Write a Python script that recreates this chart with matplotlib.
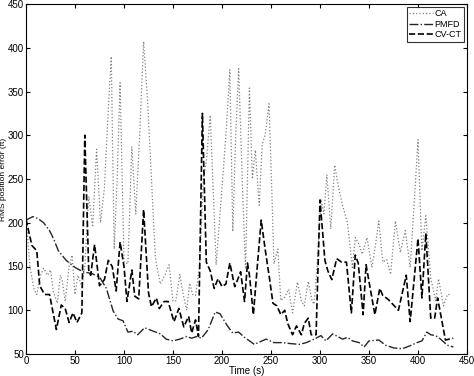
import matplotlib.pyplot as plt
import numpy as np

plt.rcParams['font.family'] = ['Liberation Sans', 'DejaVu Sans']

# CA filter (dotted)
t_ca = [0, 4, 8, 11, 15, 18, 22, 25, 28, 32, 35, 37, 40, 44, 47, 50, 53, 57, 60,
        64, 68, 72, 76, 80, 84, 87, 90, 93, 96, 100, 104, 108, 112, 116, 120, 124,
        128, 132, 137, 142, 146, 150, 153, 157, 160, 164, 167, 170, 173, 177, 181,
        184, 188, 194, 200, 204, 208, 211, 214, 217, 221, 224, 228, 231, 234, 238,
        241, 244, 248, 251, 253, 257, 260, 264, 268, 272, 277, 281, 284, 288, 292,
        294, 297, 301, 304, 307, 311, 315, 319, 323, 328, 333, 336, 340, 343, 348,
        353, 356, 360, 364, 368, 372, 377, 382, 387, 392, 396, 400, 404, 408, 413,
        418, 421, 426, 430, 433]
rms_ca = [208, 150, 125, 118, 140, 148, 140, 146, 121, 108, 140, 134, 110, 150, 163,
          118, 140, 127, 150, 230, 195, 284, 200, 240, 330, 390, 170, 250, 360, 155,
          153, 287, 210, 300, 407, 340, 250, 160, 130, 141, 152, 110, 111, 141, 120,
          100, 131, 118, 117, 150, 250, 270, 323, 152, 240, 300, 375, 190, 300, 376,
          237, 147, 354, 250, 283, 220, 290, 300, 336, 230, 153, 170, 111, 115, 124,
          97, 132, 110, 105, 133, 110, 107, 150, 227, 210, 255, 193, 266, 240, 220,
          200, 149, 183, 175, 164, 183, 149, 170, 202, 155, 158, 141, 202, 166, 191,
          149, 220, 295, 168, 208, 137, 111, 136, 105, 118, 118]

# PMFD (dash-dot)
t_pmfd = [0, 7, 12, 18, 24, 28, 33, 41, 50, 58, 67, 75, 82, 89, 94, 99, 104, 109,
          114, 121, 130, 137, 143, 150, 157, 164, 169, 174, 179, 186, 193, 198, 205,
          211, 217, 223, 233, 245, 253, 262, 269, 279, 286, 294, 301, 306, 313, 318,
          323, 328, 333, 340, 345, 350, 360, 367, 375, 384, 391, 399, 404, 409, 413,
          418, 423, 430, 436]
rms_pmfd = [203, 207, 205, 200, 191, 182, 168, 157, 149, 144, 142, 138, 125, 99, 90,
            88, 75, 76, 72, 80, 76, 73, 67, 65, 67, 70, 68, 70, 68, 78, 98, 96, 83,
            74, 75, 69, 61, 67, 63, 63, 62, 61, 63, 67, 71, 65, 73, 70, 67, 69, 65,
            63, 58, 65, 66, 60, 57, 56, 59, 63, 65, 75, 72, 71, 67, 60, 58]

# CV-CT (dashed)
t_cvct = [0, 6, 11, 14, 19, 24, 31, 36, 40, 44, 48, 52, 57, 60, 64, 66, 70, 75, 80,
          84, 88, 92, 96, 100, 103, 108, 111, 115, 120, 125, 128, 133, 136, 141, 145,
          151, 156, 161, 166, 169, 173, 176, 180, 184, 188, 192, 196, 200, 204, 208,
          213, 216, 219, 223, 226, 228, 232, 236, 240, 244, 248, 252, 256, 260, 264,
          267, 272, 276, 281, 284, 288, 291, 296, 300, 305, 308, 312, 317, 322, 327,
          332, 336, 339, 344, 347, 352, 356, 361, 364, 370, 380, 388, 392, 400, 404,
          408, 413, 417, 420, 428, 436]
rms_cvct = [204, 174, 168, 128, 118, 118, 78, 106, 102, 86, 97, 86, 97, 300, 146, 140,
            175, 128, 135, 157, 150, 122, 178, 150, 110, 146, 116, 113, 215, 120, 104,
            114, 102, 110, 110, 87, 102, 81, 93, 74, 89, 70, 325, 155, 145, 125, 136,
            127, 130, 154, 127, 135, 144, 110, 154, 140, 95, 150, 203, 170, 140, 108,
            105, 95, 100, 85, 72, 82, 72, 85, 91, 72, 72, 226, 157, 145, 135, 159, 155,
            155, 97, 163, 154, 95, 152, 120, 95, 125, 117, 112, 100, 140, 87, 182, 114,
            188, 91, 91, 114, 66, 68]

fig = plt.figure(figsize=(4.74, 3.76), dpi=100)
ax = fig.add_axes([26 / 474, 22 / 376, 441 / 474, 350 / 376])

ax.plot(t_ca, rms_ca, color='0.5', linestyle=':', linewidth=0.9, label='CA')
ax.plot(t_pmfd, rms_pmfd, color='0.15', linestyle='-.', linewidth=1.0, label='PMFD')
ax.plot(t_cvct, rms_cvct, color='black', linestyle='--', linewidth=1.2, label='CV-CT')

ax.set_xlim(0, 450)
ax.set_ylim(50, 450)
ax.set_xticks(np.arange(0, 451, 50))
ax.set_yticks(np.arange(50, 451, 50))
ax.tick_params(direction='in', top=True, right=True, labelsize=7, length=3, pad=1.5)
ax.set_xlabel('Time (s)', fontsize=7)
ax.set_ylabel('RMS position error (ft)', fontsize=6)
ax.xaxis.set_label_coords(0.5, -0.034)
ax.yaxis.set_label_coords(-0.044, 0.5)

leg = ax.legend(loc='upper right', fontsize=6.5, frameon=True, fancybox=False,
                edgecolor='black', borderaxespad=0.3, handlelength=2.6,
                handletextpad=0.2, labelspacing=0.15, borderpad=0.3)
leg.get_frame().set_linewidth(0.8)

fig.savefig('out.png', dpi=100)
